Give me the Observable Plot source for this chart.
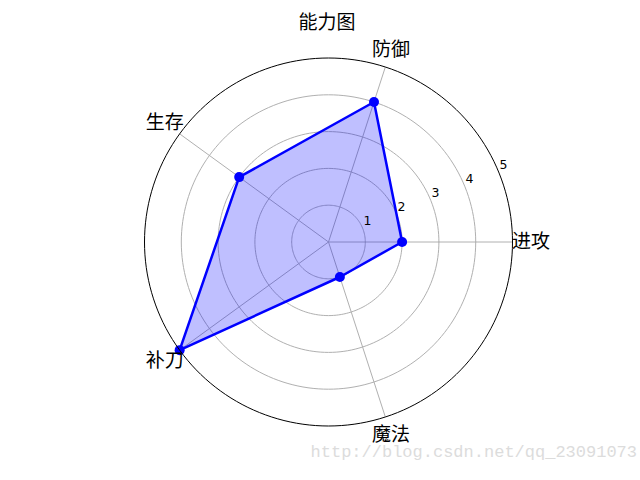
<!DOCTYPE html>
<html>
<head>
<meta charset="utf-8">
<script src="https://cdn.jsdelivr.net/npm/d3@7"></script>
<script src="https://cdn.jsdelivr.net/npm/@observablehq/plot@0.6"></script>
<style>
  html, body { margin: 0; padding: 0; background: #fff; }
  #wrap { position: relative; width: 640px; height: 480px; overflow: hidden; }
  #title { position: absolute; left: 0; top: 0; width: 640px; height: 40px; line-height: 42px; text-align: center; padding-left: 14px; box-sizing: border-box; font-family: "Noto Sans CJK SC", sans-serif; font-size: 19px; color: #000; }
  #chart { position: absolute; left: 0; top: 0; }
  #mark { position: absolute; right: 3px; top: 443px; font-family: "Liberation Mono", monospace; font-size: 17px; color: #dcdcdc; }
</style>
</head>
<body>
<div id="wrap">
  <div id="chart"></div>
  <div id="title">能力图</div>
  <div id="mark">http://blog.csdn.net/qq_23091073</div>
</div>
<script>
const categories = ["进攻", "防御", "生存", "补刀", "魔法"];
const values = [2, 4, 3, 5, 1];
const ringTicks = [1, 2, 3, 4, 5];
const rMax = 5;
const labelAngleDeg = 22.5;

const ang = i => (i * 2 * Math.PI) / categories.length;
const pts = values.map((v, i) => ({ cat: categories[i], r: v, x: v * Math.cos(ang(i)), y: v * Math.sin(ang(i)) }));

const ringPts = [];
for (const r of ringTicks) {
  for (let a = 0; a <= 360; a += 2) {
    const t = (a * Math.PI) / 180;
    ringPts.push({ ring: r, x: r * Math.cos(t), y: r * Math.sin(t) });
  }
}
const innerRings = ringPts.filter(d => d.ring < rMax);
const outerRing = ringPts.filter(d => d.ring === rMax);
const la = (labelAngleDeg * Math.PI) / 180;

const chart = Plot.plot({
  width: 640,
  height: 480,
  margin: 0,
  x: { domain: [-5, 5], range: [144, 512], axis: null },
  y: { domain: [-5, 5], range: [425.5, 57.5], axis: null },
  marks: [
    Plot.line(innerRings, { x: "x", y: "y", z: "ring", stroke: "#b0b0b0", strokeWidth: 1 }),
    Plot.link(categories, {
      x1: () => 0, y1: () => 0,
      x2: (d, i) => rMax * Math.cos(ang(i)), y2: (d, i) => rMax * Math.sin(ang(i)),
      stroke: "#b0b0b0", strokeWidth: 1
    }),
    Plot.line(pts, { x: "x", y: "y", curve: "linear-closed", fill: "blue", fillOpacity: 0.25, stroke: "none" }),
    Plot.line(pts, { x: "x", y: "y", curve: "linear-closed", stroke: "blue", strokeWidth: 2.5 }),
    Plot.dot(pts, { x: "x", y: "y", r: 5, fill: "blue", stroke: "none" }),
    Plot.line(outerRing, { x: "x", y: "y", stroke: "black", strokeWidth: 1 }),
    Plot.text(ringTicks, {
      x: d => d * Math.cos(la), y: d => d * Math.sin(la), text: d => String(d),
      textAnchor: "start", dx: 1, dy: -7, fontSize: 12.5, fill: "black",
      fontFamily: "DejaVu Sans"
    }),
    Plot.text(categories, {
      x: (d, i) => 5.5 * Math.cos(ang(i)), y: (d, i) => 5.5 * Math.sin(ang(i)), text: d => d,
      fontSize: 19, fill: "black", fontFamily: "Noto Sans CJK SC"
    })
  ]
});
document.getElementById("chart").appendChild(chart);
</script>
</body>
</html>
